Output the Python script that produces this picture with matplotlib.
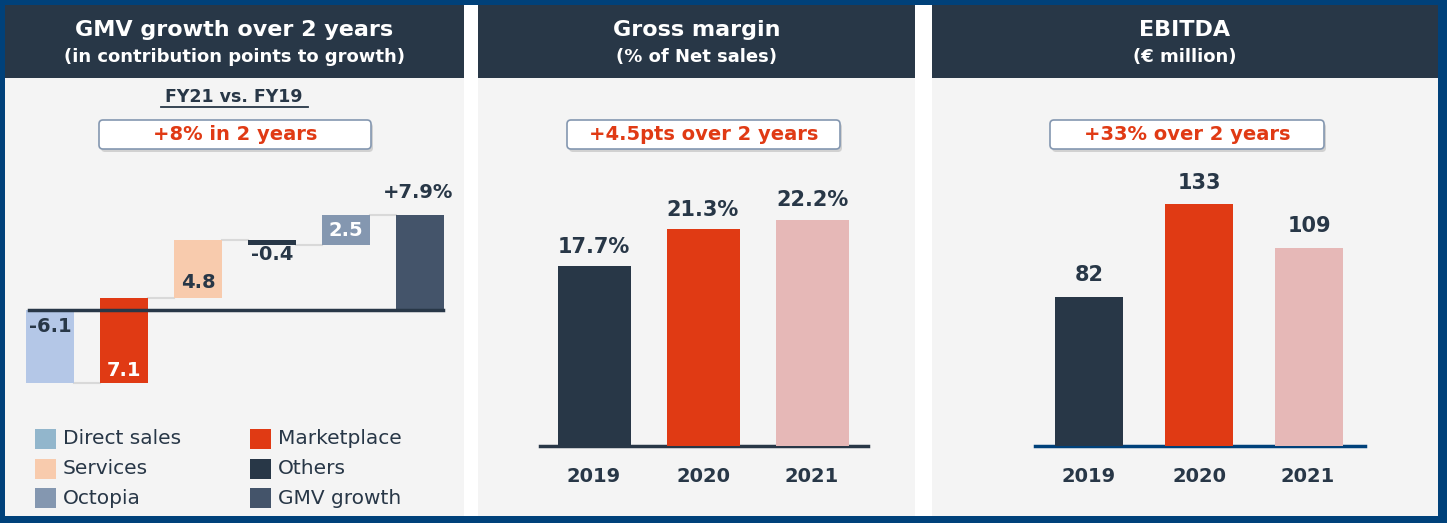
import numpy as np
import matplotlib
matplotlib.use("Agg")
import matplotlib.pyplot as plt
from matplotlib.patches import Rectangle, FancyBboxPatch

plt.rcParams['font.family'] = ['DejaVu Sans']

# ---------------- data ----------------
wf_categories = ["Direct sales", "Marketplace", "Services", "Others", "Octopia", "GMV growth"]
wf_values = [-6.1, 7.1, 4.8, -0.4, 2.5]
wf_total = 7.9
wf_labels = ["-6.1", "7.1", "4.8", "-0.4", "2.5", "+7.9%"]

years = ["2019", "2020", "2021"]
gross_margin = [17.7, 21.3, 22.2]
gross_margin_labels = ["17.7%", "21.3%", "22.2%"]
ebitda = [82, 133, 109]
ebitda_labels = ["82", "133", "109"]

panel_titles = ["GMV growth over 2 years", "Gross margin", "EBITDA"]
panel_subtitles = ["(in contribution points to growth)", "(% of Net sales)", "(\u20ac million)"]
box_texts = ["+8% in 2 years", "+4.5pts over 2 years", "+33% over 2 years"]

# ---------------- styles ----------------
NAVY = "#283747"
RED = "#e03a14"
PINK = "#e6b8b7"
BG = "#f4f4f4"
BORDER = "#00417a"
wf_colors = ["#b4c7e7", RED, "#f8cbad", NAVY, "#8497b0", "#44546a"]
legend_colors = ["#92b6cc", RED, "#f8cbad", NAVY, "#8497b0", "#44546a"]
year_colors = [NAVY, RED, PINK]

W, H = 1447, 523
fig = plt.figure(figsize=(W / 100, H / 100), dpi=100)
fig.patch.set_facecolor("white")

bg = fig.add_axes([0, 0, 1, 1])
bg.set_xlim(0, W)
bg.set_ylim(H, 0)
bg.axis("off")

# outer border
bg.add_patch(Rectangle((0, 0), W, H, facecolor=BORDER, edgecolor="none", zorder=0))
bg.add_patch(Rectangle((5, 5), 1433, 511, facecolor="white", edgecolor="none", zorder=0.5))

panels = [(5, 464), (478, 915), (932, 1438)]
for i, (x0, x1) in enumerate(panels):
    bg.add_patch(Rectangle((x0, 5), x1 - x0, 511, facecolor=BG, edgecolor="none", zorder=1))
    bg.add_patch(Rectangle((x0, 5), x1 - x0, 73, facecolor=NAVY, edgecolor="none", zorder=1))
    cx = (x0 + x1) / 2
    bg.text(cx, 30, panel_titles[i], color="white", fontsize=16, fontweight="bold",
            ha="center", va="center", zorder=3)
    bg.text(cx, 57, panel_subtitles[i], color="white", fontsize=13, fontweight="bold",
            ha="center", va="center", zorder=3)

# callout boxes
boxes = [(99, 371), (567, 840), (1050, 1324)]
for (bx0, bx1), t in zip(boxes, box_texts):
    bg.add_patch(FancyBboxPatch((bx0 + 2, 123), bx1 - bx0, 29,
                                boxstyle="round,pad=0,rounding_size=4",
                                facecolor="#b0b0b0", edgecolor="none", alpha=0.5, zorder=2))
    bg.add_patch(FancyBboxPatch((bx0, 120), bx1 - bx0, 29,
                                boxstyle="round,pad=0,rounding_size=4",
                                facecolor="white", edgecolor="#8497b0", linewidth=1.2, zorder=2.5))
    bg.text((bx0 + bx1) / 2, 135, t, color=RED, fontsize=14, fontweight="bold",
            ha="center", va="center", zorder=3)

# FY21 vs FY19
bg.text(234, 97, "FY21 vs. FY19", color=NAVY, fontsize=12.5, fontweight="bold",
        ha="center", va="center", zorder=3)
bg.plot([161, 308], [106.5, 106.5], color=NAVY, lw=1.3, zorder=3)

# ---------------- waterfall ----------------
def px_axes(x0, x1, y0, y1):
    return fig.add_axes([x0 / W, 1 - y1 / H, (x1 - x0) / W, (y1 - y0) / H])

wf_ax = px_axes(20, 450, 160, 400)
wf_ax.set_facecolor("none")
wf_ax.axis("off")
sp = 74.0
wf_ax.set_xlim(-30 / sp, 400 / sp)
wf_ax.set_ylim(-90 / 12, 150 / 12)
cum = np.concatenate([[0], np.cumsum(wf_values)])
x = np.arange(len(wf_categories))
bw = 48 / sp
starts = list(cum[:-1]) + [0]
heights = list(wf_values) + [wf_total]
wf_ax.bar(x, heights, bottom=starts, width=bw, color=wf_colors, zorder=3)
# connectors
for i in range(len(wf_values)):
    lvl = cum[i + 1]
    wf_ax.plot([x[i] + bw / 2, x[i + 1] - bw / 2], [lvl, lvl], color="#d9d9d9", lw=1.5, zorder=2)
# baseline
wf_ax.plot([(29 - 50) / sp, (443 - 50) / sp], [0, 0], color=NAVY, lw=2.5, zorder=4)
# labels
label_y = [(310 - 326) / 12, (310 - 371) / 12, (310 - 283) / 12, (310 - 255) / 12,
           (310 - 230) / 12, (310 - 193) / 12]
label_c = [NAVY, "white", NAVY, NAVY, "white", NAVY]
for i, t in enumerate(wf_labels):
    dx = -0.03 if i == 5 else 0
    wf_ax.text(x[i] + dx, label_y[i], t, color=label_c[i], fontsize=14, fontweight="bold",
               ha="center", va="center", zorder=5)

# legend (manual)
leg_rows = [439, 469, 498]
leg_cols = [(35, 63), (250, 278)]
order = [[0, 2, 4], [1, 3, 5]]
for c, (sx, tx) in enumerate(leg_cols):
    for r, idx in enumerate(order[c]):
        y = leg_rows[r]
        bg.add_patch(Rectangle((sx, y - 10), 21, 20, facecolor=legend_colors[idx],
                               edgecolor="none", zorder=3))
        bg.text(tx, y, wf_categories[idx], color=NAVY, fontsize=14.5,
                ha="left", va="center", zorder=3)

# ---------------- simple bar panels ----------------
def bar_panel(x0, x1, centers_px, width_px, values, labels, scale, label_px, base_x, base_color):
    sp = centers_px[1] - centers_px[0]
    ax = px_axes(x0, x1, 150, 446)
    ax.set_facecolor("none")
    ax.axis("off")
    ax.set_xlim((x0 - centers_px[0]) / sp, (x1 - centers_px[0]) / sp)
    ax.set_ylim(0, 296 / scale)
    xs = np.arange(len(values))
    ax.bar(xs, values, width=width_px / sp, color=year_colors, zorder=3)
    for i, t in enumerate(labels):
        ax.text(xs[i], (446 - label_px[i]) / scale, t, color=NAVY, fontsize=15,
                fontweight="bold", ha="center", va="center", zorder=5)
    # baseline
    bg.plot(base_x, [446, 446], color=base_color, lw=2.5, zorder=4)
    for i, yl in enumerate(years):
        bg.text(centers_px[i], 477, yl, color=NAVY, fontsize=14, fontweight="bold",
                ha="center", va="center", zorder=5)

bar_panel(520, 890, [594, 703, 812], 73, gross_margin, gross_margin_labels, 10.17,
          [247, 210, 200], [540, 868], NAVY)
bar_panel(1015, 1385, [1089, 1199, 1308], 68, ebitda, ebitda_labels, 1.817,
          [275, 183, 226], [1035, 1365], BORDER)

fig.savefig("out.png", dpi=100, facecolor=fig.get_facecolor())
